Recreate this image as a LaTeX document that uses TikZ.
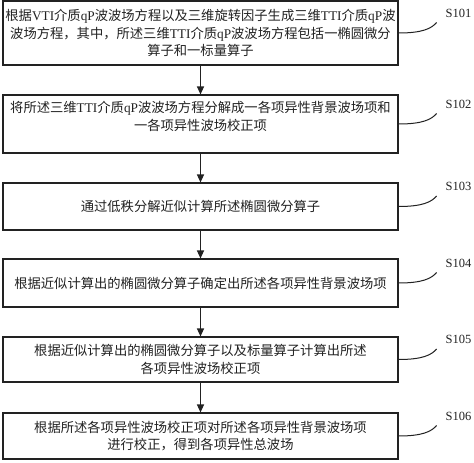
\documentclass[tikz,border=0pt]{standalone}
\usepackage{fontspec}
\setmainfont{Noto Sans CJK SC}
\newfontfamily\latfont{Liberation Serif}
\newcommand\lt[1]{{\latfont #1}}
\usetikzlibrary{arrows.meta,calc}
\definecolor{ink}{HTML}{222222}
\begin{document}
\begin{tikzpicture}[x=1pt,y=-1pt,
  stepbox/.style={draw=ink,line width=1.1pt,minimum width=395pt,inner sep=0pt,
    align=center,text=ink,font=\fontsize{13.3}{17.5}\selectfont},
  txt/.style={align=center,text=ink,font=\fontsize{13.3}{18}\selectfont,inner sep=0pt},
  arr/.style={draw=ink,line width=1.1pt,-{Triangle[length=8pt,width=7pt]}},
  lead/.style={draw=ink,line width=1pt},
  steplabel/.style={text=ink,font=\latfont\fontsize{12.5}{14}\selectfont,inner sep=0pt}]
\useasboundingbox (0,0) rectangle (474,463);
\fill[white] (0,0) rectangle (474,463);

\node[stepbox,minimum height=64pt] (b1) at (200.5,33)
  {根据\lt{VTI}介质\lt{qP}波波场方程以及三维旋转因子生成三维\lt{TTI}介质\lt{qP}波\\
   波场方程，其中，所述三维\lt{TTI}介质\lt{qP}波波场方程包括一椭圆微分\\
   算子和一标量算子};
\node[stepbox,minimum height=58pt,
  label={[txt,yshift=8pt]center:{将所述三维\lt{TTI}介质\lt{qP}波波场方程分解成一各项异性背景波场项和\\一各项异性波场校正项}}]
  (b2) at (200.5,124) {};
\node[stepbox,minimum height=47pt] (b3) at (200.5,206.5)
  {通过低秩分解近似计算所述椭圆微分算子};
\node[stepbox,minimum height=48pt] (b4) at (200.5,283)
  {根据近似计算出的椭圆微分算子确定出所述各项异性背景波场项};
\node[stepbox,minimum height=45pt] (b5) at (200.5,359.5)
  {根据近似计算出的椭圆微分算子以及标量算子计算出所述\\各项异性波场校正项};
\node[stepbox,minimum height=46pt] (b6) at (200.5,436)
  {根据所述各项异性波场校正项对所述各项异性背景波场项\\进行校正，得到各项异性总波场};

\foreach \a/\b in {b1/b2,b2/b3,b3/b4,b4/b5,b5/b6}
  \draw[arr] (\a) -- (\b);

\foreach \b/\s in {b1/S101,b2/S102,b3/S103,b4/S104,b5/S105,b6/S106}{
  \coordinate (\b e) at ($(\b.east)+(38,-10.5)$);
  \draw[lead] (\b.east) .. controls +(24,0) and +(-5,6) .. (\b e);
  \node[steplabel] (\b l) at ($(\b.east)+(60,-20)$) {\s};
}
\end{tikzpicture}
\end{document}
